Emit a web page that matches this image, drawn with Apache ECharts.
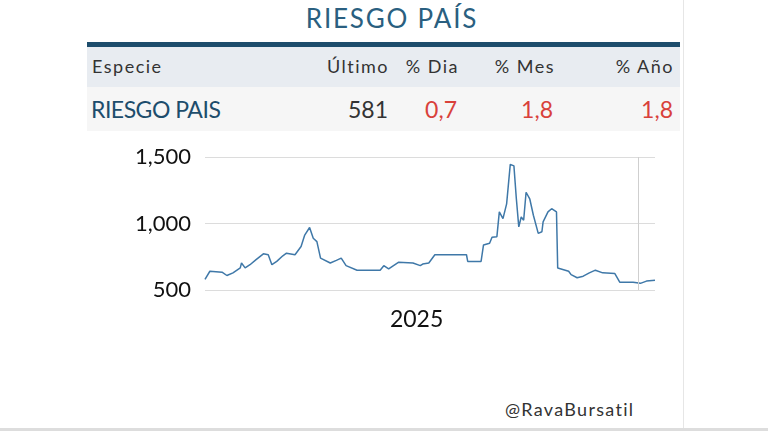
<!DOCTYPE html>
<html><head><meta charset="utf-8">
<script src="https://cdn.jsdelivr.net/npm/echarts@6/dist/echarts.min.js"></script>
<style>
body{margin:0;width:768px;height:431px;background:#fff;font-family:Lato,"Open Sans",sans-serif;position:relative;overflow:hidden}
#card{position:absolute;left:85px;top:0;width:598px;height:428px;background:#fff;border-right:1px solid #e6e6e6}
#bottom{position:absolute;left:0;top:428px;width:768px;height:3px;background:#ddd}
.t{position:absolute;white-space:nowrap}
.h{top:55px;font-size:18px;color:#333;letter-spacing:1.5px}
.v{top:95px;font-size:23px}
#chart{position:absolute;left:0;top:0;width:768px;height:431px}
</style></head><body>
<div id="card"></div>
<div id="bottom"></div>
<div class="t" style="left:0;width:768px;text-align:center;top:2px;font-size:26px;color:#2a5f80;letter-spacing:1.8px;padding-left:8px">RIESGO PAÍS</div>
<div class="t" style="left:87px;top:42px;width:593px;height:5px;background:#1d4d6c"></div>
<div class="t" style="left:87px;top:47px;width:593px;height:40px;background:#e8ecf1"></div>
<div class="t" style="left:87px;top:87px;width:593px;height:44px;background:#f6f6f6"></div>
<div class="t h" style="left:92px">Especie</div>
<div class="t h" style="right:379px">Último</div>
<div class="t h" style="right:309px">% Dia</div>
<div class="t h" style="right:213px">% Mes</div>
<div class="t h" style="right:94px">% Año</div>
<div class="t v" style="left:91px;color:#1d4d6c;letter-spacing:-0.5px">RIESGO PAIS</div>
<div class="t v" style="right:380px;color:#333">581</div>
<div class="t v" style="right:311px;color:#d9413b">0,7</div>
<div class="t v" style="right:215px;color:#d9413b">1,8</div>
<div class="t v" style="right:95px;color:#d9413b">1,8</div>
<div class="t" style="left:505px;top:398px;font-size:18px;color:#333;letter-spacing:1.3px">@RavaBursatil</div>
<div id="chart"></div>
<script>
var days = [0,4,14,18,23,29,30,33,37,42,48,52,55,59,64,67,74,79,82,86,89,92,95,103,108,112,116,125,144,147,151,159,171,177,179,184,189,215,216,227,229,234,236,240,242,245,248,251,254,256,258,260,262,264,267,270,274,277,278,282,285,289,290,299,301,306,311,316,321,327,337,341,352,358,363,370];
var values = [579,641,634,609,629,666,703,666,690,728,772,765,690,715,757,777,765,827,913,970,889,864,740,703,723,740,683,649,649,683,658,708,703,683,695,703,765,765,715,715,839,851,896,901,1087,1037,1148,1445,1433,1186,975,1049,1024,1235,1186,1062,926,938,1012,1087,1111,1087,666,641,616,592,604,629,649,629,624,559,559,550,567,574];
var yTicks = [500, 1000, 1500];
var yearLabel = '2025';
var yearLabelDay = 174;
var yearStartDay = 356;

var chart = echarts.init(document.getElementById('chart'));
var points = [];
for (var i = 0; i < days.length; i++) points.push([days[i], values[i]]);
chart.setOption({
	animation: false,
	grid: { left: 205, right: 113, top: 157, bottom: 141 },
	xAxis: {
		type: 'value', min: 0, max: 370,
		axisLine: { show: false }, axisTick: { show: false }, splitLine: { show: false },
		axisLabel: {
			customValues: [yearLabelDay], formatter: function () { return yearLabel; },
			color: '#111', fontSize: 23, margin: 18, fontFamily: 'Lato'
		}
	},
	yAxis: {
		type: 'value', min: yTicks[0], max: yTicks[yTicks.length - 1], interval: 500,
		axisLine: { show: false }, axisTick: { show: false },
		splitLine: { lineStyle: { color: '#dcdcdc', width: 1 } },
		axisLabel: {
			color: '#111', fontSize: 22, margin: 14, fontFamily: 'Lato',
			formatter: function (v) { return v >= 1000 ? Math.floor(v / 1000) + ',' + String(v % 1000).padStart(3, '0') : v; }
		}
	},
	series: [{
		type: 'line', data: points, symbol: 'none',
		lineStyle: { color: '#3f78a8', width: 1.5 },
		markLine: {
			silent: true, symbol: 'none', label: { show: false },
			lineStyle: { color: '#cfcfcf', type: 'solid', width: 1 },
			data: [{ xAxis: yearStartDay }]
		}
	}]
});
</script>
</body></html>
